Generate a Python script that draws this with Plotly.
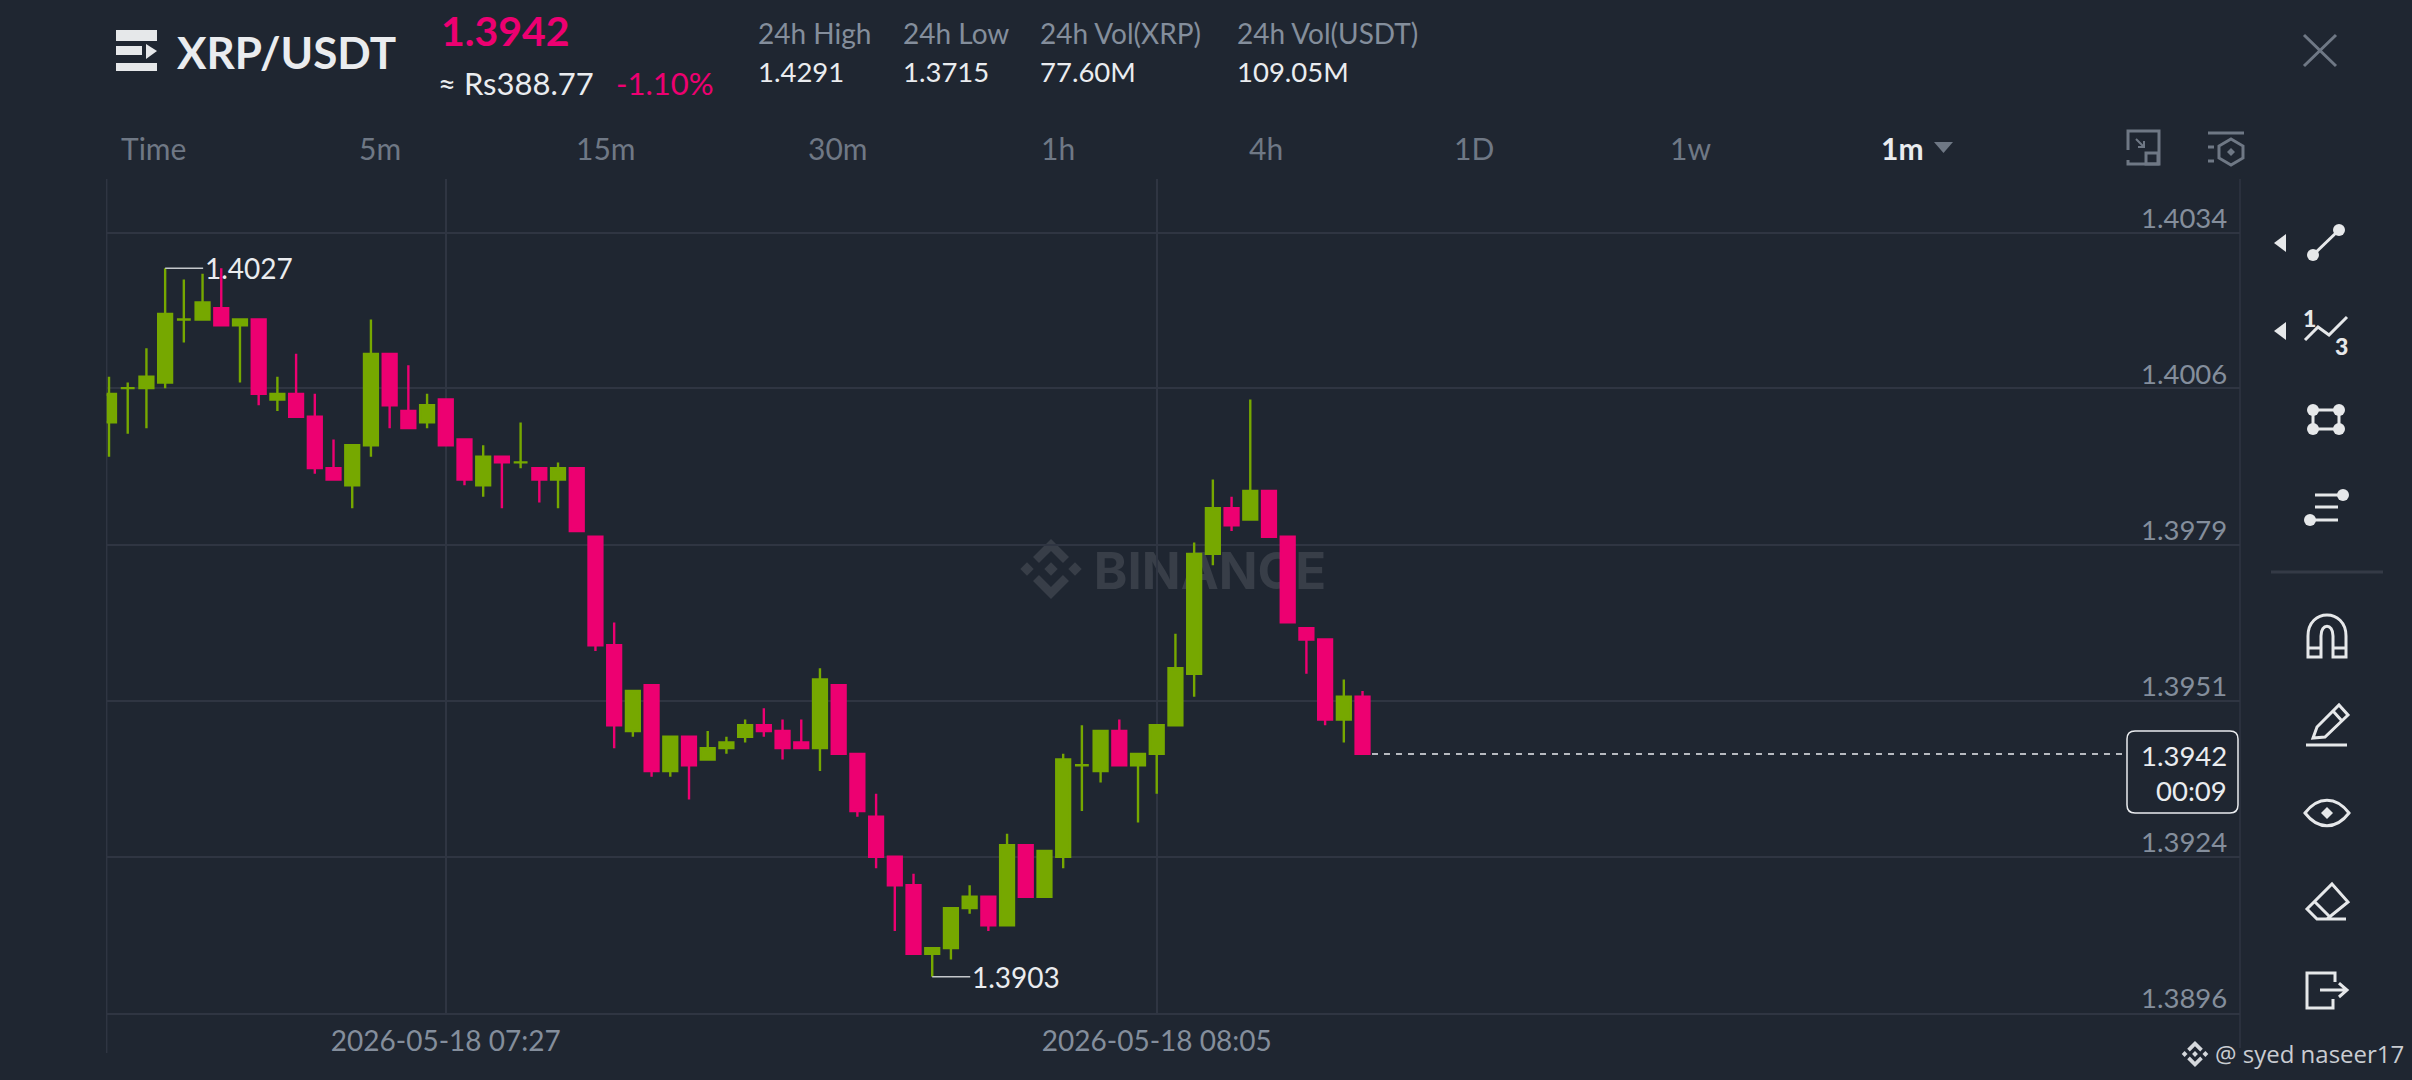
"""XRP/USDT 1m candlestick screen, Binance dark theme."""
import re

import pandas as pd
import plotly.graph_objects as go

W, H = 2412, 1080
FONT = "Lato"

BG = "#1f2631"
GRID = "#2f3542"
UP = "#76a800"
DOWN = "#ed0071"
WHITE = "#eaecef"
GREY = "#848e9c"
TAB = "#6f7885"
ICON = "#e6e8ea"

# candles, one per minute
times = [
    "07:09", "07:10", "07:11", "07:12", "07:13", "07:14", "07:15", "07:16", "07:17", "07:18",
    "07:19", "07:20", "07:21", "07:22", "07:23", "07:24", "07:25", "07:26", "07:27", "07:28",
    "07:29", "07:30", "07:31", "07:32", "07:33", "07:34", "07:35", "07:36", "07:37", "07:38",
    "07:39", "07:40", "07:41", "07:42", "07:43", "07:44", "07:45", "07:46", "07:47", "07:48",
    "07:49", "07:50", "07:51", "07:52", "07:53", "07:54", "07:55", "07:56", "07:57", "07:58",
    "07:59", "08:00", "08:01", "08:02", "08:03", "08:04", "08:05", "08:06", "08:07", "08:08",
    "08:09", "08:10", "08:11", "08:12", "08:13", "08:14", "08:15", "08:16",
]
opens = [
    1.4000, 1.4006, 1.4006, 1.4007, 1.4018, 1.4018, 1.4020, 1.4017, 1.4018, 1.4004,
    1.4005, 1.4001, 1.3992, 1.3989, 1.3996, 1.4012, 1.4002, 1.4000, 1.4004, 1.3997,
    1.3989, 1.3994, 1.3993, 1.3992, 1.3990, 1.3992, 1.3980, 1.3961, 1.3946, 1.3954,
    1.3939, 1.3945, 1.3941, 1.3943, 1.3945, 1.3947, 1.3946, 1.3944, 1.3943, 1.3954,
    1.3942, 1.3931, 1.3924, 1.3919, 1.3907, 1.3908, 1.3915, 1.3917, 1.3912, 1.3926,
    1.3917, 1.3924, 1.3940, 1.3939, 1.3946, 1.3940, 1.3942, 1.3947, 1.3956, 1.3977,
    1.3985, 1.3983, 1.3988, 1.3980, 1.3964, 1.3962, 1.3948, 1.3952,
]
closes = [
    1.4005, 1.4006, 1.4008, 1.4019, 1.4018, 1.4021, 1.4017, 1.4018, 1.4005, 1.4005,
    1.4001, 1.3992, 1.3990, 1.3996, 1.4012, 1.4003, 1.3999, 1.4003, 1.3996, 1.3990,
    1.3994, 1.3993, 1.3993, 1.3990, 1.3992, 1.3981, 1.3961, 1.3947, 1.3953, 1.3939,
    1.3945, 1.3940, 1.3943, 1.3944, 1.3947, 1.3946, 1.3943, 1.3943, 1.3955, 1.3942,
    1.3932, 1.3924, 1.3919, 1.3907, 1.3908, 1.3915, 1.3917, 1.3912, 1.3926, 1.3917,
    1.3925, 1.3941, 1.3940, 1.3946, 1.3940, 1.3942, 1.3947, 1.3957, 1.3977, 1.3985,
    1.3982, 1.3988, 1.3980, 1.3965, 1.3962, 1.3948, 1.3952, 1.3942,
]
highs = [
    1.4008, 1.4007, 1.4013, 1.4027, 1.4025, 1.4026, 1.4027, 1.4018, 1.4018, 1.4008,
    1.4012, 1.4005, 1.3997, 1.3996, 1.4018, 1.4012, 1.4010, 1.4005, 1.4004, 1.3997,
    1.3996, 1.3994, 1.4000, 1.3992, 1.3993, 1.3992, 1.3980, 1.3965, 1.3953, 1.3954,
    1.3945, 1.3945, 1.3946, 1.3945, 1.3948, 1.3950, 1.3948, 1.3948, 1.3957, 1.3954,
    1.3942, 1.3935, 1.3924, 1.3921, 1.3908, 1.3915, 1.3919, 1.3917, 1.3928, 1.3926,
    1.3925, 1.3942, 1.3947, 1.3946, 1.3948, 1.3942, 1.3947, 1.3963, 1.3979, 1.3990,
    1.3987, 1.4004, 1.3988, 1.3980, 1.3964, 1.3962, 1.3955, 1.3953,
]
lows = [
    1.3994, 1.3998, 1.3999, 1.4006, 1.4014, 1.4018, 1.4017, 1.4007, 1.4003, 1.4002,
    1.4001, 1.3991, 1.3990, 1.3985, 1.3994, 1.3999, 1.3999, 1.3999, 1.3996, 1.3989,
    1.3987, 1.3985, 1.3992, 1.3986, 1.3985, 1.3981, 1.3960, 1.3943, 1.3945, 1.3938,
    1.3938, 1.3934, 1.3941, 1.3942, 1.3944, 1.3945, 1.3941, 1.3943, 1.3939, 1.3942,
    1.3931, 1.3922, 1.3911, 1.3907, 1.3903, 1.3906, 1.3914, 1.3911, 1.3912, 1.3917,
    1.3917, 1.3922, 1.3932, 1.3937, 1.3940, 1.3930, 1.3935, 1.3947, 1.3952, 1.3975,
    1.3981, 1.3983, 1.3980, 1.3965, 1.3956, 1.3947, 1.3944, 1.3942,
]

# axis ticks
price_ticks = [1.40332, 1.40060, 1.39786, 1.39513, 1.39240, 1.38968]
price_labels = ["1.4034", "1.4006", "1.3979", "1.3951", "1.3924", "1.3896"]
time_ticks = ["2026-05-18 07:27", "2026-05-18 08:05"]

# header texts
stat_names = ["24h High", "24h Low", "24h Vol(XRP)", "24h Vol(USDT)"]
stat_values = ["1.4291", "1.3715", "77.60M", "109.05M"]
stat_x = [757, 902, 1039, 1236]
tab_names = ["Time", "5m", "15m", "30m", "1h", "4h", "1D", "1w"]
tab_x = [153, 380, 605, 838, 1058, 1266, 1474, 1690]

df = pd.DataFrame({"t": ["2026-05-18 " + t for t in times], "o": opens, "h": highs, "l": lows, "c": closes})
df["up"] = df["c"] >= df["o"]

fig = go.Figure()
for is_up, color in [(True, UP), (False, DOWN)]:
    d = df[df["up"] == is_up]
    fig.add_trace(go.Candlestick(
        x=d["t"], open=d["o"], high=d["h"], low=d["l"], close=d["c"],
        increasing=dict(line=dict(color=color, width=2.4), fillcolor=color),
        decreasing=dict(line=dict(color=color, width=2.4), fillcolor=color),
        whiskerwidth=0, hoverinfo="skip", showlegend=False,
    ))

shapes = []
annotations = []


def fx(x):
    return x / W


def fy(y):
    return 1 - y / H


def to_paper(d):
    # pixel coordinates in a path -> paper fractions, numbers come as x y pairs
    count = [0]

    def swap(m):
        v = float(m.group())
        count[0] += 1
        return f"{fx(v):.5f}" if count[0] % 2 else f"{fy(v):.5f}"

    return re.sub(r"-?\d+\.?\d*", swap, d)


def add_path(d, fill=None, color=None, width=0, layer="above"):
    shapes.append(dict(
        type="path", path=to_paper(d), xref="paper", yref="paper", layer=layer,
        fillcolor=fill if fill else "rgba(0,0,0,0)",
        line=dict(color=color if color else "rgba(0,0,0,0)", width=width),
    ))


def add_dot(x, y, r, color=ICON):
    shapes.append(dict(
        type="circle", xref="paper", yref="paper",
        x0=fx(x - r), x1=fx(x + r), y0=fy(y + r), y1=fy(y - r),
        fillcolor=color, line=dict(width=0),
    ))


def add_text(x, y, text, size, color, anchor="left", weight=400, family=FONT):
    annotations.append(dict(
        x=fx(x), y=fy(y), xref="paper", yref="paper", text=text, showarrow=False,
        xanchor=anchor, yanchor="middle", borderpad=0,
        font=dict(size=size, color=color, family=family, weight=weight),
    ))


def binance_logo(cx, cy, k, color, layer="above"):
    # k = half height of the mark in px
    u = k / 30
    def pts(seq):
        return "M" + " L".join(f"{cx + a * u:.2f} {cy + b * u:.2f}" for a, b in seq) + " Z"
    sq = [(0, -6.7), (6.7, 0), (0, 6.7), (-6.7, 0)]
    add_path(pts(sq), fill=color, layer=layer)
    add_path(pts([(a - 24, b) for a, b in sq]), fill=color, layer=layer)
    add_path(pts([(a + 24, b) for a, b in sq]), fill=color, layer=layer)
    chev = [(0, -30), (18, -12), (12, -6), (0, -18), (-12, -6), (-18, -12)]
    add_path(pts(chev), fill=color, layer=layer)
    add_path(pts([(a, -b) for a, b in chev]), fill=color, layer=layer)


# frame lines next to the price area
add_path("M106.7 179 L106.7 1053", color=GRID, width=1.5, layer="below")
add_path("M2240 179 L2240 1048", color=GRID, width=1.5, layer="below")

# watermark, under the candles
binance_logo(1051, 569, 30, "#383e48", layer="below")
shapes.append(dict(
    type="rect", xref="paper", yref="paper", layer="below",
    x0=fx(1080), x1=fx(1340), y0=fy(589), y1=fy(548),
    fillcolor="rgba(0,0,0,0)", line=dict(width=0),
    label=dict(text="BINANCE", textposition="middle center",
               font=dict(family="Inter", size=51, color="#383e48", weight=700)),
))

# header, pair and price
add_path("M116 30 L157 30 L157 41 L116 41 Z", fill=ICON)
add_path("M116 46 L142 46 L142 55 L116 55 Z", fill=ICON)
add_path("M146 44 L157 51 L146 59 Z", fill=ICON)
add_path("M116 63 L157 63 L157 71 L116 71 Z", fill=ICON)
add_text(176, 52, "XRP/USDT", 44, WHITE, weight=700)
add_text(440, 31, "1.3942", 41, DOWN, weight=700)
add_text(437, 83, "≈ Rs388.77", 31, WHITE)
add_text(615, 83, "-1.10%", 31, DOWN)
for name, value, x in zip(stat_names, stat_values, stat_x):
    add_text(x, 33, name, 28, GREY)
    add_text(x, 72, value, 27.5, WHITE)

# interval tabs
for name, x in zip(tab_names, tab_x):
    add_text(x, 148, name, 30, TAB, anchor="center")
add_text(1902, 148, "1m", 30, WHITE, anchor="center", weight=700)
add_path("M1934 142 L1953 142 L1943.5 153 Z", fill=TAB)

# small icons top right
add_path("M2128 150 L2128 131 L2159 131 L2159 164 L2128 164 L2128 160", color=TAB, width=3)
add_path("M2136 139 L2144 147 M2144 141 L2144 147 L2138 147", color=TAB, width=2)
add_path("M2146 153 L2158 153 L2158 164 L2146 164 Z", color=TAB, width=3)
add_path("M2208 133 L2244 133", color=TAB, width=3)
add_path("M2208 147 L2214 147 M2208 161 L2214 161", color=TAB, width=3)
add_path("M2231 139 L2243 146 L2243 158 L2231 165 L2219 158 L2219 146 Z", color=TAB, width=3)
add_path("M2231 148 L2235 152 L2231 156 L2227 152 Z", fill=TAB)
add_path("M2304 35 L2336 66 M2336 35 L2304 66", color=TAB, width=3)

# price labels sit above their grid lines, plotly drops inside labels near the axis end
for val, text in zip(price_ticks, price_labels):
    annotations.append(dict(
        x=fx(2228), y=val, xref="paper", yref="y", text=text, showarrow=False,
        xanchor="right", yanchor="middle", yshift=15, borderpad=0,
        font=dict(size=27.5, color=GREY, family=FONT),
    ))

# price box and last price line
add_path("M1372 754 L2127 754", color=WHITE, width=1.5)
shapes[-1]["line"]["dash"] = "6px,6px"
add_path("M2135 731 L2230 731 Q2238 731 2238 739 L2238 805 Q2238 813 2230 813 L2135 813 "
         "Q2127 813 2127 805 L2127 739 Q2127 731 2135 731 Z", fill=BG, color=WHITE, width=1.5)
add_text(2228, 755, "1.3942", 27.5, WHITE, anchor="right")
add_text(2228, 790, "00:09", 27.5, WHITE, anchor="right")

# drawing toolbar
add_path("M2274 243 L2286 234 L2286 252 Z", fill=ICON)
add_path("M2313 255 L2339 230", color=ICON, width=3)
add_dot(2313, 255, 6)
add_dot(2339, 230, 6)
add_path("M2274 331 L2286 322 L2286 340 Z", fill=ICON)
add_path("M2305 340 L2318 327 L2329 335 L2347 317", color=ICON, width=3)
add_text(2309, 318, "1", 23, ICON, anchor="center", weight=900)
add_text(2341, 346, "3", 23, ICON, anchor="center", weight=900)
add_path("M2313 410 L2339 410 L2339 429 L2313 429 Z", color=ICON, width=3)
for x, y in [(2313, 410), (2339, 410), (2313, 429), (2339, 429)]:
    add_dot(x, y, 6)
add_path("M2315 495 L2343 495 M2315 507 L2338 507 M2310 520 L2338 520", color=ICON, width=3)
add_dot(2343, 495, 6)
add_dot(2310, 520, 6)
add_path("M2271 572 L2383 572", color="#343a46", width=3)
add_path("M2308 657 L2308 636 C2308 608 2346 608 2346 636 L2346 657 L2333 657 L2333 636 "
         "C2333 623 2321 623 2321 636 L2321 657 Z M2308 648 L2321 648 M2333 648 L2346 648",
         color=ICON, width=3)
add_path("M2313 738 L2317 727 L2339 705 L2348 715 L2325 737 Z M2333 711 L2342 721", color=ICON, width=3)
add_path("M2306 745 L2347 745", color=ICON, width=3)
add_path("M2305 813 C2318 796 2336 796 2349 813 C2336 830 2318 830 2305 813 Z", color=ICON, width=3)
add_path("M2327 807 L2333 813 L2327 819 L2321 813 Z", fill=ICON)
add_path("M2332 884 L2348 902 L2327 919 L2317 919 L2307 909 Z M2315 902 L2330 917 M2327 919 L2346 919",
         color=ICON, width=3)
add_path("M2335 982 L2335 973 L2307 973 L2307 1008 L2333 1008 L2333 999", color=ICON, width=3)
add_path("M2320 990 L2347 990 M2339 983 L2347 990 L2339 997", color=ICON, width=3)

# signature
binance_logo(2195, 1054, 13, "#d5d8dc")
add_text(2214, 1053, "@ syed naseer17", 24, "#c9ccd1", family="Open Sans")

# high / low markers
hi = df.loc[df["h"].idxmax()]
lo = df.loc[df["l"].idxmin()]
for row, val in [(hi, hi["h"]), (lo, lo["l"])]:
    annotations.append(dict(
        x=row["t"], y=val, xref="x", yref="y", text=f"{val:.4f}", showarrow=True,
        ax=38, ay=0, axref="pixel", ayref="pixel", arrowhead=0, arrowwidth=1.5, arrowcolor="#c4c7cc",
        standoff=0, startstandoff=0, xanchor="left", yanchor="middle",
        font=dict(size=28, color=WHITE, family=FONT),
    ))

fig.update_layout(
    width=W, height=H, autosize=False,
    margin=dict(l=0, r=0, t=0, b=0),
    paper_bgcolor=BG, plot_bgcolor=BG,
    showlegend=False, boxgap=0.26, boxgroupgap=0,
    shapes=shapes, annotations=annotations,
    xaxis=dict(
        domain=[106.7 / W, 2240 / W],
        type="date", range=["2026-05-18 07:08:52.6", "2026-05-18 09:02:54"],
        rangeslider=dict(visible=False),
        tickmode="array", tickvals=time_ticks, ticktext=time_ticks,
        showgrid=True, gridcolor=GRID, gridwidth=1.5, zeroline=False,
        showline=True, linecolor=GRID, linewidth=1.5,
        ticks="outside", ticklen=3, tickcolor="rgba(0,0,0,0)",
        tickfont=dict(size=28, color=GREY, family=FONT),
    ),
    yaxis=dict(
        domain=[1 - 1012.7 / H, 1 - 179 / H],
        range=[1.38967, 1.40426], side="right", anchor="x",
        tickmode="array", tickvals=price_ticks, showticklabels=False,
        showgrid=True, gridcolor=GRID, gridwidth=1.5, zeroline=False, showline=False,
        ticks="",
    ),
)

fig.write_html("out.html", config={"displayModeBar": False},
               post_script="document.body.style.margin='0';document.body.style.overflow='hidden';")
